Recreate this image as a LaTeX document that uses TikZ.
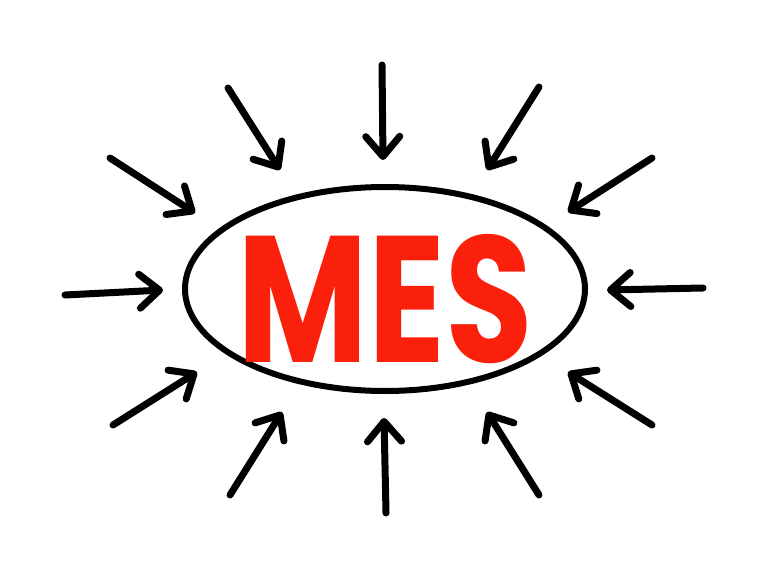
\documentclass[tikz,border=0pt]{standalone}
\usepackage{fontspec}
\usepackage{graphicx}
\usetikzlibrary{arrows.meta,shapes.geometric}
\newfontfamily\mesfont{Poppins}
\definecolor{mesred}{RGB}{250,32,12}

\tikzset{
  ring/.style={draw,ellipse,line width=6pt,minimum width=400pt,minimum height=204pt},
  word/.style={text=mesred,inner sep=0pt,font=\mesfont\bfseries},
  pointer/.style={line width=7pt,line cap=round,line join=round,
    -{Straight Barb[length=20pt,width=34pt,round]}}
}

\begin{document}
\begin{tikzpicture}[x=1pt,y=-1pt]
\useasboundingbox (0,0) rectangle (768,580);
\node[ring] (ring) at (385,289) {};
\node[word] (mes) at (385,299) {\resizebox{295pt}{128pt}{MES}};
\foreach \n/\a/\b/\c/\d in {
  t/382/65/383/160, tl/228/88/280/170, tr/539/87/487/170,
  ul/110/158/195/213, ur/652/158/568/212,
  l/65/295/163/290, r/703/288/607/290,
  dl/113/425/197/372, dr/652/425/568/372,
  bl/230/495/282/412, b/386/513/384/418, br/539/495/487/412}
{
  \coordinate (s\n) at (\a,\b);
  \coordinate (e\n) at (\c,\d);
  \draw[pointer] (s\n) -- (e\n);
}
\end{tikzpicture}
\end{document}
